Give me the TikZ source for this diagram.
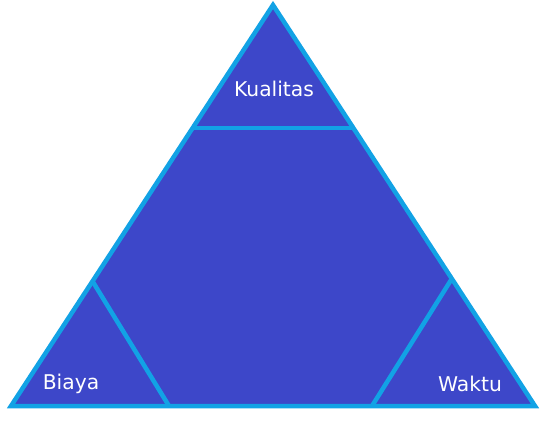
\documentclass[tikz,border=0pt]{standalone}
\usepackage{fontspec}
\setmainfont{DejaVu Sans}
\definecolor{segi}{RGB}{61,71,201}
\definecolor{garis}{RGB}{18,162,229}
\usetikzlibrary{positioning}

\begin{document}
\begin{tikzpicture}[x=1pt,y=-1pt, line width=4.5pt]
	\useasboundingbox (0,0) rectangle (545,423);
	\coordinate (A) at (273,5);
	\coordinate (L) at (11,406);
	\coordinate (R) at (535,406);
	\draw [garis, fill=segi] (A) -- (L) -- (R) -- cycle;
	\draw [garis] (192.6,128) -- (353.4,128);
	\draw [garis] (93,282) -- (169,406);
	\draw [garis] (451,280) -- (372,406);
    \node [white, font=\fontsize{20.3}{24}\selectfont] (kualitas) at (274,89) {Kualitas};
    \node [white, font=\fontsize{20.3}{24}\selectfont] (biaya) at (71,384) {Biaya};
    \node [white, font=\fontsize{20.3}{24}\selectfont] (waktu) at (470,384) {Waktu};
	\end{tikzpicture}
\end{document}
